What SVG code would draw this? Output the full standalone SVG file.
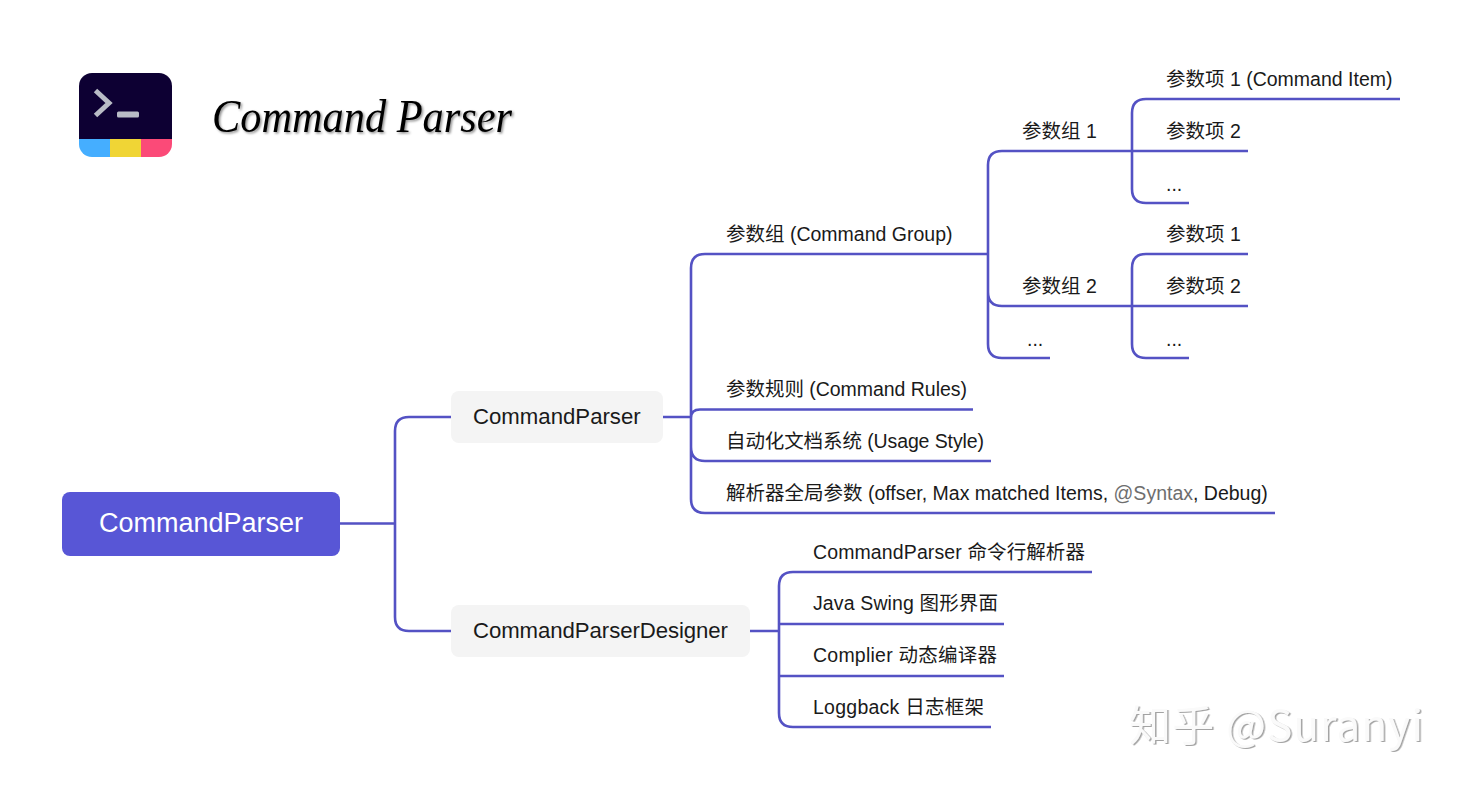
<svg xmlns="http://www.w3.org/2000/svg" width="1461" height="790" viewBox="0 0 1461 790">
<style>
text{font-family:"Liberation Sans","Noto Sans CJK SC",sans-serif;fill:#1a1a1a}
.l{font-size:19.5px}
.m{font-size:22.200px}
.c{fill:none;stroke:#5452c4;stroke-width:2.6;stroke-linejoin:round}
</style>
<defs>
<filter id="ts" x="-5%" y="-20%" width="110%" height="140%"><feDropShadow dx="1.5" dy="1.5" stdDeviation="1" flood-color="#000" flood-opacity=".45"/></filter>
<filter id="wm" x="-5%" y="-20%" width="110%" height="140%"><feDropShadow dx="1.5" dy="1" stdDeviation=".5" flood-color="#999" flood-opacity=".9"/></filter>
<clipPath id="lc"><rect x="79" y="73" width="93" height="84" rx="13"/></clipPath>
</defs>
<rect width="1461" height="790" fill="#fff"/>
<g id="logo">
<g clip-path="url(#lc)">
<rect x="79" y="73" width="93" height="66" fill="#0d0033"/>
<rect x="79" y="139" width="31" height="18" fill="#45aeff"/>
<rect x="110" y="139" width="31" height="18" fill="#f0d535"/>
<rect x="141" y="139" width="31" height="18" fill="#fb4a78"/>
</g>
<path d="M95.500 90.500L109 103L95.500 115.500" fill="none" stroke="#b9bcc6" stroke-width="5"/>
<rect x="117" y="111.500" width="22" height="6" rx="1.500" fill="#b9bcc6"/>
</g>
<g id="title"><text x="212" y="132" filter="url(#ts)" textLength="300" lengthAdjust="spacingAndGlyphs" style="font-family:'Liberation Serif',serif;font-style:italic;font-size:46px;fill:#000">Command Parser</text></g>
<g id="connectors">
<path class="c" d="M340 523.500H395M451 417H409Q395 417 395 431V617Q395 631 409 631H451"/>
<path class="c" d="M663 417H691M988 254H705Q691 254 691 268V499Q691 513 705 513H1275M973 409.500H700Q691 409.500 691 418M991 461H705Q691 461 691 447"/>
<path class="c" d="M750 631H779M1092 572H793Q779 572 779 586V713Q779 727 793 727H991M1004 624H779M1004 676H779"/>
<path class="c" d="M1248 151H1002Q988 151 988 165V344Q988 358 1002 358H1050M1248 306H1002Q988 306 988 292"/>
<path class="c" d="M1400 99H1146Q1132 99 1132 113V189Q1132 203 1146 203H1189"/>
<path class="c" d="M1248 254H1146Q1132 254 1132 268V344Q1132 358 1146 358H1189"/>
</g>
<g id="root"><rect x="62" y="492" width="278" height="64" rx="8" fill="#5856d6"/><text x="201" y="532" text-anchor="middle" style="font-size:27px;fill:#fff">CommandParser</text></g>
<g id="n-parser"><rect x="451" y="391" width="212" height="52" rx="8" fill="#f4f4f4"/><text class="m" x="473" y="424">CommandParser</text></g>
<g id="n-designer"><rect x="451" y="605" width="299" height="52" rx="8" fill="#f4f4f4"/><text class="m" x="473" y="638" textLength="255">CommandParserDesigner</text></g>
<g id="n-group"><text class="l" x="726" y="241">参数组 (Command Group)</text></g>
<g id="n-rules"><text class="l" x="726" y="396" textLength="241">参数规则 (Command Rules)</text></g>
<g id="n-usage"><text class="l" x="726" y="448" textLength="258">自动化文档系统 (Usage Style)</text></g>
<g id="n-global"><text class="l" x="726" y="500">解析器全局参数 (offser, Max matched Items, <tspan style="fill:#6e6e6e">@Syntax</tspan>, Debug)</text></g>
<g id="n-g1"><text class="l" x="1022" y="137.500">参数组 1</text></g>
<g id="n-g2"><text class="l" x="1022" y="292.500">参数组 2</text></g>
<g id="n-g3"><text class="l" x="1027" y="345.500">...</text></g>
<g id="n-i11"><text class="l" x="1166" y="86">参数项 1 (Command Item)</text></g>
<g id="n-i12"><text class="l" x="1166" y="137.500">参数项 2</text></g>
<g id="n-i13"><text class="l" x="1166" y="190.500">...</text></g>
<g id="n-i21"><text class="l" x="1166" y="241">参数项 1</text></g>
<g id="n-i22"><text class="l" x="1166" y="292.500">参数项 2</text></g>
<g id="n-i23"><text class="l" x="1166" y="345.500">...</text></g>
<g id="n-d1"><text class="l" x="813" y="559" textLength="272">CommandParser 命令行解析器</text></g>
<g id="n-d2"><text class="l" x="813" y="610" textLength="185">Java Swing 图形界面</text></g>
<g id="n-d3"><text class="l" x="813" y="662" textLength="184">Complier 动态编译器</text></g>
<g id="n-d4"><text class="l" x="813" y="714" textLength="171">Loggback 日志框架</text></g>
<g id="watermark"><text x="1129" y="741" filter="url(#wm)" textLength="294" style="font-family:'Noto Sans CJK SC','Noto Sans',sans-serif;font-size:42px;fill:#fafafa">知乎 @Suranyi</text></g>
</svg>
